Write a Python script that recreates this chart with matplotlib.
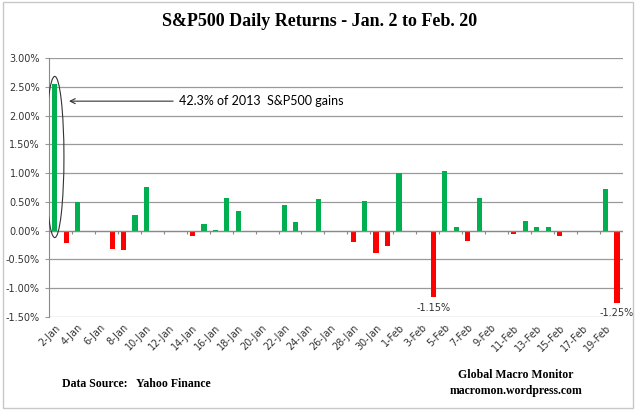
import datetime as dt
import matplotlib
matplotlib.use("Agg")
import matplotlib.pyplot as plt
from matplotlib.patches import Ellipse, Rectangle
from matplotlib.ticker import FuncFormatter

# ============================== Data ==============================
trade_dates = ["2013-01-02", "2013-01-03", "2013-01-04", "2013-01-07", "2013-01-08",
               "2013-01-09", "2013-01-10", "2013-01-11", "2013-01-14", "2013-01-15",
               "2013-01-16", "2013-01-17", "2013-01-18", "2013-01-22", "2013-01-23",
               "2013-01-24", "2013-01-25", "2013-01-28", "2013-01-29", "2013-01-30",
               "2013-01-31", "2013-02-01", "2013-02-04", "2013-02-05", "2013-02-06",
               "2013-02-07", "2013-02-08", "2013-02-11", "2013-02-12", "2013-02-13",
               "2013-02-14", "2013-02-15", "2013-02-19", "2013-02-20"]
returns = [2.54, -0.21, 0.49, -0.31, -0.33,
           0.27, 0.76, -0.01, -0.10, 0.11,
           0.02, 0.56, 0.34, 0.44, 0.15,
           0.00, 0.55, -0.19, 0.51, -0.39,
           -0.26, 1.01, -1.15, 1.04, 0.06,
           -0.18, 0.57, -0.06, 0.16, 0.06,
           0.07, -0.10, 0.73, -1.25]
start_day = dt.date(2013, 1, 2)
end_day = dt.date(2013, 2, 20)
labelled = {"2013-02-04": "-1.15%", "2013-02-20": "-1.25%"}

title = "S&P500 Daily Returns - Jan. 2 to Feb. 20"
note = "42.3% of 2013  S&P500 gains"

# ============================== Figure ==============================
fig = plt.figure(figsize=(6.4, 4.13), dpi=100)
ax = fig.add_axes([0.0766, 0.2324, 0.8964, 0.6272])

n_days = (end_day - start_day).days + 1
xs = [(dt.date.fromisoformat(d) - start_day).days for d in trade_dates]
colors = ["#00B050" if v >= 0 else "#FF0000" for v in returns]
ax.bar(xs, returns, width=0.45, color=colors, zorder=3)

# value labels on the two big down days
for d, v, x in zip(trade_dates, returns, xs):
    if d in labelled:
        ax.text(x, v - 0.1, labelled[d], ha="center", va="top", fontsize=7,
                color="#333333")

ax.set_xlim(-0.5, n_days - 0.5)
ax.set_ylim(-1.5, 3.0)
ax.set_yticks([-1.5, -1.0, -0.5, 0, 0.5, 1.0, 1.5, 2.0, 2.5, 3.0])
ax.yaxis.set_major_formatter(FuncFormatter(lambda v, p: f"{v:.2f}%"))
ax.grid(axis="y", color="#9a9a9a", linewidth=0.9, zorder=0)
ax.tick_params(axis="y", length=3, color="#9a9a9a", labelsize=7, labelcolor="#333333")

day_list = [start_day + dt.timedelta(days=i) for i in range(n_days)]
ax.set_xticks(range(0, n_days, 2))
ax.set_xticklabels([f"{d.day}-{d:%b}" for d in day_list[::2]], rotation=45,
                   ha="right", rotation_mode="anchor", fontsize=7, color="#333333")
ax.tick_params(axis="x", length=0, pad=4)

# zero axis with small tick marks
ax.axhline(0, color="#8a8a8a", linewidth=0.9, zorder=4)
ax.vlines([x - 0.5 for x in range(0, n_days + 1, 2)], -0.05, 0, color="#8a8a8a",
          linewidth=0.8, zorder=4)

for s in ["top", "right", "bottom"]:
    ax.spines[s].set_visible(False)
ax.spines["left"].set_color("#8a8a8a")

# ellipse + arrow annotation
ax.add_patch(Ellipse((0, 1.28), 1.6, 2.8, fill=False, edgecolor="#333333",
                     linewidth=0.8, zorder=5))
ax.annotate(note, xy=(1.0, 2.25), xytext=(10.8, 2.25), va="center", ha="left",
            fontsize=9, family="Lato",
            arrowprops=dict(arrowstyle="->", color="#333333", lw=0.8))

fig.text(0.5, 0.947, title, ha="center", va="center", fontsize=13,
         fontweight="bold", family="Liberation Serif")
fig.text(0.097, 0.070, "Data Source:   Yahoo Finance", ha="left", va="center",
         fontsize=8.5, fontweight="bold", family="Liberation Serif")
fig.text(0.806, 0.092, "Global Macro Monitor", ha="center", va="center",
         fontsize=8.5, fontweight="bold", family="Liberation Serif")
fig.text(0.806, 0.053, "macromon.wordpress.com", ha="center", va="center",
         fontsize=8.5, fontweight="bold", family="Liberation Serif")

fig.add_artist(Rectangle((0.005, 0.012), 0.984, 0.983, transform=fig.transFigure,
                         fill=False, edgecolor="#c8c8c8", linewidth=1))

fig.savefig("out.png", dpi=100)
